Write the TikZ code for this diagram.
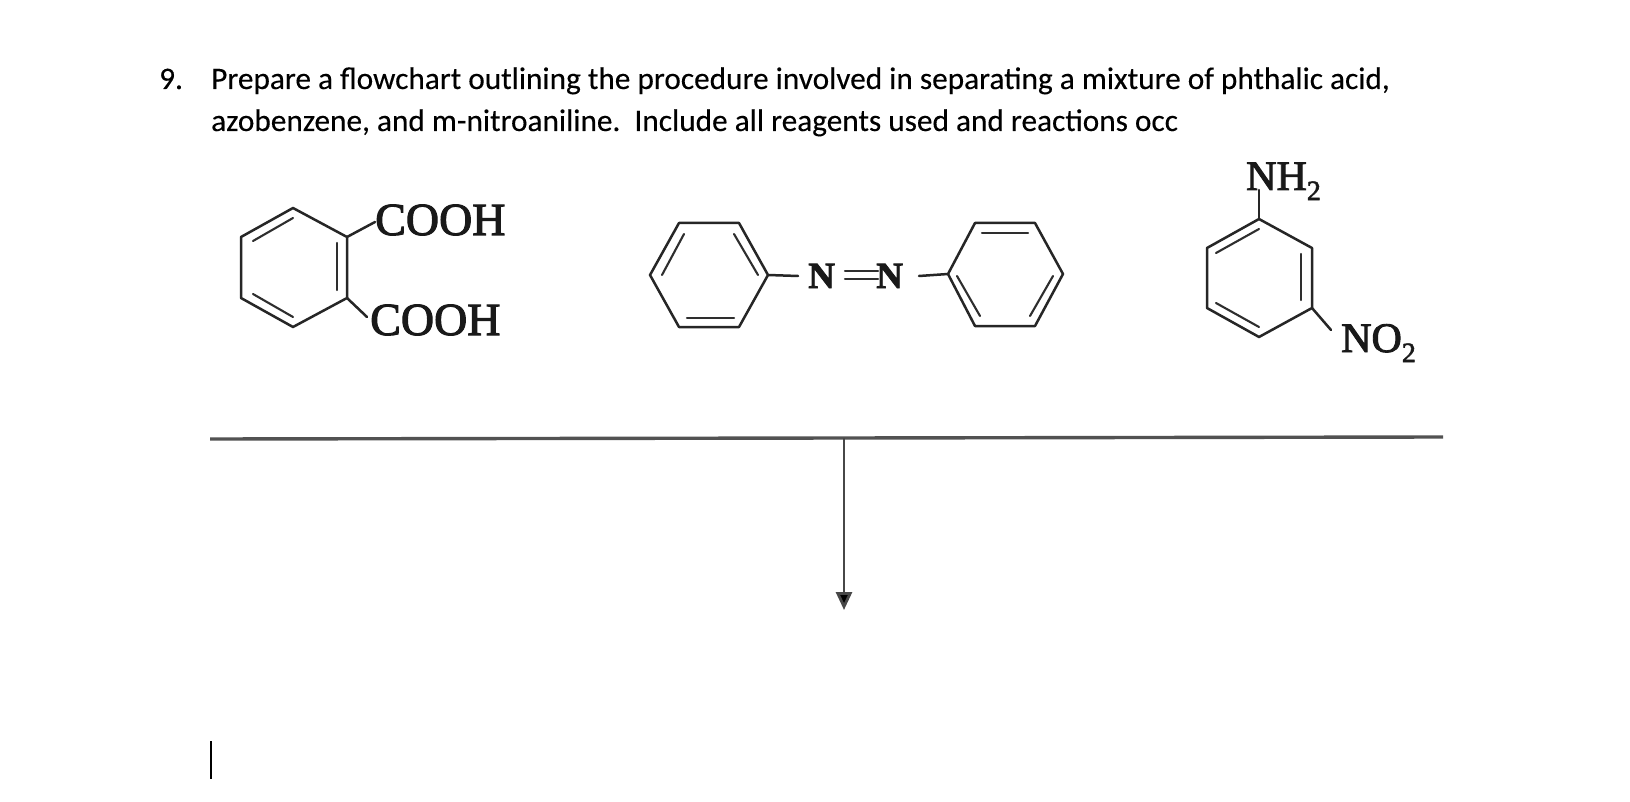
\documentclass[tikz,border=0pt]{standalone}
\usepackage{fontspec}
\setmainfont{Carlito}[FakeBold=0.22]
\newfontfamily\chemfont{Liberation Serif}[FakeBold=2.2]
\usetikzlibrary{arrows.meta}
\tikzset{
  x=1pt,y=-1pt,
  qtext/.style={anchor=base west,inner sep=0pt,font=\fontsize{31.3}{34}\selectfont,text=black},
  chem/.style={anchor=base west,inner sep=0pt,font=\chemfont\fontsize{46}{50}\selectfont,text=black!90},
  chemb/.style={anchor=base west,inner sep=0pt,font=\chemfont\fontsize{42}{46}\selectfont,text=black!90},
  nitro/.style={anchor=base west,inner sep=0pt,font=\chemfont\bfseries\fontsize{37}{40}\selectfont,text=black!90},
  bond/.style={draw=black!85,line width=2.5pt,line join=round,line cap=round},
  inner bond/.style={draw=black!82,line width=2.1pt,line cap=round},
  rule/.style={draw=black!68,line width=3.4pt},
}
\begin{document}
\begin{tikzpicture}
\useasboundingbox (0,0) rectangle (1630,802);
\fill[white] (0,0) rectangle (1630,802);
% question text
\node[qtext] (num) at (159,89) {9.};
\node[qtext] (l1) at (211,89) {Prepare a flowchart outlining the procedure involved in separating a mixture of phthalic acid,};
\node[qtext] (l2) at (211,131) {azobenzene, and m-nitroaniline.\ \ Include all reagents used and reactions occ};
% phthalic acid
\coordinate (a1) at (293,208); \coordinate (a2) at (347,237); \coordinate (a3) at (347,298);
\coordinate (a4) at (293,327); \coordinate (a5) at (241,298); \coordinate (a6) at (241,237);
\draw[bond] (a1)--(a2)--(a3)--(a4)--(a5)--(a6)--cycle;
\coordinate (ai1) at (253,241); \coordinate (ai2) at (293,218);
\coordinate (ai3) at (337,243); \coordinate (ai4) at (337,290);
\coordinate (ai5) at (253,294); \coordinate (ai6) at (293,317);
\draw[inner bond] (ai1)--(ai2);
\draw[inner bond] (ai3)--(ai4);
\draw[inner bond] (ai5)--(ai6);
\node[chem] (cooh1) at (375,235) {COOH};
\node[chem] (cooh2) at (370,335) {COOH};
\coordinate (c1) at (375,222); \coordinate (c2) at (367,317);
\draw[bond] (a2)--(c1);
\draw[bond] (a3)--(c2);
% azobenzene
\coordinate (b1) at (679,223); \coordinate (b2) at (739,223); \coordinate (b3) at (768,275);
\coordinate (b4) at (739,327); \coordinate (b5) at (679,327); \coordinate (b6) at (650,275);
\draw[bond] (b1)--(b2)--(b3)--(b4)--(b5)--(b6)--cycle;
\coordinate (bi1) at (684,234); \coordinate (bi2) at (662,275);
\coordinate (bi3) at (734,234); \coordinate (bi4) at (758,275);
\coordinate (bi5) at (687,318); \coordinate (bi6) at (734,318);
\draw[inner bond] (bi1)--(bi2);
\draw[inner bond] (bi3)--(bi4);
\draw[inner bond] (bi5)--(bi6);
\node[nitro] (n1) at (808,288) {N};
\node[nitro] (n2) at (876,288) {N};
\coordinate (nb1) at (845,271); \coordinate (nb2) at (878,271);
\coordinate (nb3) at (845,279); \coordinate (nb4) at (878,279);
\draw[inner bond] (nb1)--(nb2);
\draw[inner bond] (nb3)--(nb4);
\coordinate (bb1) at (798,276); \coordinate (bb2) at (919,276);
\draw[bond] (b3)--(bb1);
\coordinate (d1) at (975,223); \coordinate (d2) at (1035,223); \coordinate (d3) at (1063,274);
\coordinate (d4) at (1035,326); \coordinate (d5) at (975,326); \coordinate (d6) at (948,274);
\draw[bond] (d1)--(d2)--(d3)--(d4)--(d5)--(d6)--cycle;
\draw[bond] (bb2)--(d6);
\coordinate (di1) at (982,233); \coordinate (di2) at (1028,233);
\coordinate (di3) at (957,276); \coordinate (di4) at (980,316);
\coordinate (di5) at (1053,276); \coordinate (di6) at (1030,316);
\draw[inner bond] (di1)--(di2);
\draw[inner bond] (di3)--(di4);
\draw[inner bond] (di5)--(di6);
% m-nitroaniline
\coordinate (e1) at (1259,219); \coordinate (e2) at (1312,248); \coordinate (e3) at (1312,308);
\coordinate (e4) at (1259,337); \coordinate (e5) at (1207,308); \coordinate (e6) at (1207,248);
\draw[bond] (e1)--(e2)--(e3)--(e4)--(e5)--(e6)--cycle;
\coordinate (ei1) at (1216,253); \coordinate (ei2) at (1259,229);
\coordinate (ei3) at (1301,254); \coordinate (ei4) at (1301,300);
\coordinate (ei5) at (1216,303); \coordinate (ei6) at (1259,327);
\draw[inner bond] (ei1)--(ei2);
\draw[inner bond] (ei3)--(ei4);
\draw[inner bond] (ei5)--(ei6);
\node[chemb] (nh2) at (1246,190) {NH\raisebox{-0.24em}{\fontsize{28}{30}\selectfont 2}};
\node[chemb] (no2) at (1341,352) {NO\raisebox{-0.24em}{\fontsize{28}{30}\selectfont 2}};
\coordinate (f1) at (1259,190); \coordinate (f2) at (1331,330);
\draw[bond] (e1)--(f1);
\draw[bond] (e3)--(f2);
% separator and arrow
\coordinate (r1) at (210,439); \coordinate (r2) at (844,438); \coordinate (r3) at (1443,437);
\coordinate (ar) at (844,610);
\draw[rule] (r1)--(r2)--(r3);
\draw[draw=black!72,line width=2.8pt,-{Triangle[length=18pt,width=16pt,fill=black]}] (r2)--(ar);
% cursor
\coordinate (k1) at (211,741); \coordinate (k2) at (211,779);
\draw[black,line width=2.4pt] (k1)--(k2);
\end{tikzpicture}
\end{document}
